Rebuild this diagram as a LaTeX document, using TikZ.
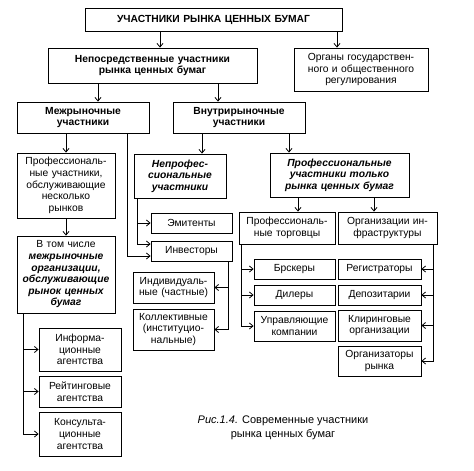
\documentclass[tikz,border=0pt]{standalone}
\usepackage{fontspec}
\setmainfont{Liberation Sans}
\usetikzlibrary{arrows.meta}
\tikzset{
  box/.style={draw,line width=0.9pt,rectangle,inner sep=1pt,align=center,
    font=\fontsize{10.3}{11.6}\selectfont},
  bfbox/.style={box,font=\fontsize{10.3}{11.6}\selectfont\bfseries},
  bibox/.style={box,font=\fontsize{10.3}{11.6}\selectfont\bfseries\itshape},
  arr/.style={line width=0.7pt,-{Straight Barb[length=3.5pt,width=6pt,line width=0.8pt]}},
}
\newcommand\bx[7]{%
  \pgfmathsetmacro\bw{#4-#2}\pgfmathsetmacro\bh{#5-#3}\pgfmathsetmacro\tw{#4-#2-4}%
  \pgfmathsetmacro\cx{(#2+#4)/2}\pgfmathsetmacro\cy{(#3+#5)/2}%
  \node[#6,minimum width=\bw pt,minimum height=\bh pt,text width=\tw pt] (#1) at (\cx,\cy) {#7};}
\begin{document}
\begin{tikzpicture}[x=1pt,y=-1pt]
\useasboundingbox (0,0) rectangle (474,471);
\bx{top}{85}{8}{342}{31}{bfbox}{УЧАСТНИКИ РЫНКА ЦЕННЫХ БУМАГ}
\bx{direct}{48}{48}{257}{83}{bfbox}{Непосредственные участники\\рынка ценных бумаг}
\bx{organs}{294}{48}{428}{91}{box}{Органы государствен-\\ного и общественного\\регулирования}
\bx{inter}{17}{102}{149}{133}{bfbox}{Межрыночные\\участники}
\bx{intra}{173}{102}{305}{133}{bfbox}{Внутрирыночные\\участники}
\bx{prof1}{17}{153}{115}{218}{box}{Профессиональ-\\ные участники,\\обслуживающие\\несколько\\рынков}
\bx{incl}{17}{236}{115}{313}{box}{В том числе\\\textbf{\textit{межрыночные\\организации,\\обслуживающие\\рынок ценных\\бумаг}}}
\bx{info}{39}{328}{121}{371}{box}{Информа-\\ционные\\агентства}
\bx{rating}{39}{376}{121}{407}{box}{Рейтинговые\\агентства}
\bx{consult}{39}{412}{121}{456}{box}{Консульта-\\ционные\\агентства}
\bx{nonprof}{134}{154}{226}{198}{bibox}{Непрофес-\\сиональные\\участники}
\bx{emit}{151}{213}{232}{233}{box}{Эмитенты}
\bx{invest}{151}{241}{232}{261}{box}{Инвесторы}
\bx{indiv}{133}{272}{214}{303}{box}{Индивидуаль-\\ные (частные)}
\bx{collect}{133}{309}{214}{350}{box}{Коллективные\\(институцио-\\нальные)}
\bx{profonly}{270}{153}{409}{197}{bibox}{Профессиональные\\участники только\\рынка ценных бумаг}
\bx{traders}{239}{212}{335}{244}{box}{Профессиональ-\\ные торговцы}
\bx{infra}{338}{212}{437}{244}{box}{Организации ин-\\фраструктуры}
\bx{broker}{254}{259}{335}{279}{box}{Брскеры}
\bx{dealer}{254}{285}{335}{305}{box}{Дилеры}
\bx{manage}{254}{311}{335}{341}{box}{Управляющие\\компании}
\bx{reg}{338}{259}{421}{279}{box}{Регистраторы}
\bx{depo}{338}{285}{421}{305}{box}{Депозитарии}
\bx{clear}{338}{310}{421}{341}{box}{Клиринговые\\организации}
\bx{org}{338}{346}{421}{376}{box}{Организаторы\\рынка}
\node[align=center,font=\fontsize{11}{14.5}\selectfont] (cap) at (283,428)
  {\textit{Рис.1.4.} Современные участники\\рынка ценных бумаг};
% connectors
\draw[arr] (top.south -| 160,0) -- (direct.north -| 160,0);
\draw[arr] (top.south -| 337,0) -- (organs.north -| 337,0);
\draw[arr] (direct.south -| 98,0) -- (inter.north -| 98,0);
\draw[arr] (direct.south -| 218,0) -- (intra.north -| 218,0);
\draw[arr] (inter.south -| 66,0) -- (prof1.north -| 66,0);
\draw[arr] (prof1.south -| 66,0) -- (incl.north -| 66,0);
\draw[arr] (inter.south -| 127,0) |- (invest.west |- 0,256);
\draw[arr] (intra.south -| 202,0) -- (nonprof.north -| 202,0);
\draw[arr] (intra.south -| 289,0) -- (profonly.north -| 289,0);
\draw[arr] (nonprof.south -| 137,0) |- (emit.west);
\draw[arr] (nonprof.south -| 137,0) |- (invest.west |- 0,244);
\draw[arr] (invest.south -| 228,0) |- (indiv.east);
\draw[arr] (invest.south -| 228,0) |- (collect.east);
\draw[arr] (incl.south -| 23,0) |- (info.west);
\draw[arr] (incl.south -| 23,0) |- (rating.west);
\draw[arr] (incl.south -| 23,0) |- (consult.west);
\draw[arr] (profonly.south -| 298,0) -- (traders.north -| 298,0);
\draw[arr] (profonly.south -| 374,0) -- (infra.north -| 374,0);
\draw[arr] (traders.south -| 241,0) |- (broker.west);
\draw[arr] (traders.south -| 241,0) |- (dealer.west);
\draw[arr] (traders.south -| 241,0) |- (manage.west);
\draw[arr] (infra.south -| 433,0) |- (reg.east);
\draw[arr] (infra.south -| 433,0) |- (depo.east);
\draw[arr] (infra.south -| 433,0) |- (clear.east);
\draw[arr] (infra.south -| 433,0) |- (org.east);
\end{tikzpicture}
\end{document}
